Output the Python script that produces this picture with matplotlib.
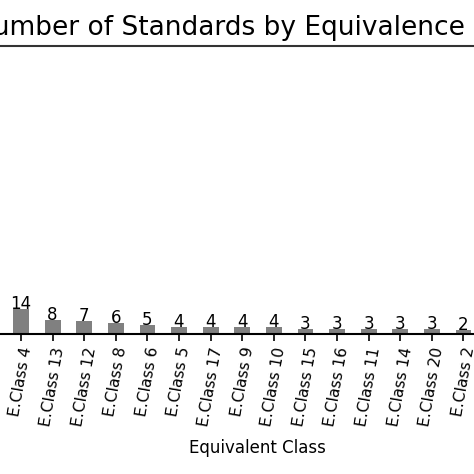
import matplotlib
matplotlib.use("Agg")
import matplotlib.pyplot as plt

categories = ["E.Class 4", "E.Class 13", "E.Class 12", "E.Class 8", "E.Class 6",
              "E.Class 5", "E.Class 17", "E.Class 9", "E.Class 10", "E.Class 15",
              "E.Class 16", "E.Class 11", "E.Class 14", "E.Class 20", "E.Class 2"]
values = [14, 8, 7, 6, 5, 4, 4, 4, 4, 3, 3, 3, 3, 3, 2]

W = H = 474
fig = plt.figure(figsize=(W / 100, H / 100), dpi=100)
# axes extends beyond the visible figure (cropped view)
left_px, right_px = -100, 615
bottom_px, top_px = 474 - 334, 474 - 46
ax = fig.add_axes([left_px / W, bottom_px / H, (right_px - left_px) / W, (top_px - bottom_px) / H])

x = list(range(len(categories)))
bars = ax.bar(x, values, width=0.5, color="#808080")
for xi, v in zip(x, values):
    ax.annotate(str(v), (xi, v), xytext=(0, 0), textcoords="offset points",
                ha="center", va="baseline", fontsize=12)

x0_px, step_px = 21, 31.6
ax.set_xlim((left_px - x0_px) / step_px, (right_px - x0_px) / step_px)
ax.set_ylim(0, 161)
ax.set_xticks(x)
ax.set_xticklabels(categories, rotation=80, fontsize=11.2)
ax.tick_params(axis="x", length=5, width=1.2)
ax.set_xlabel("Equivalent Class", fontsize=12, labelpad=8)
ax.set_title("Number of Standards by Equivalence Class", fontsize=19, pad=8)
for s in ax.spines.values():
    s.set_linewidth(1.5)
ax.spines["top"].set_color("#333333")

fig.savefig("out.png", dpi=100)
